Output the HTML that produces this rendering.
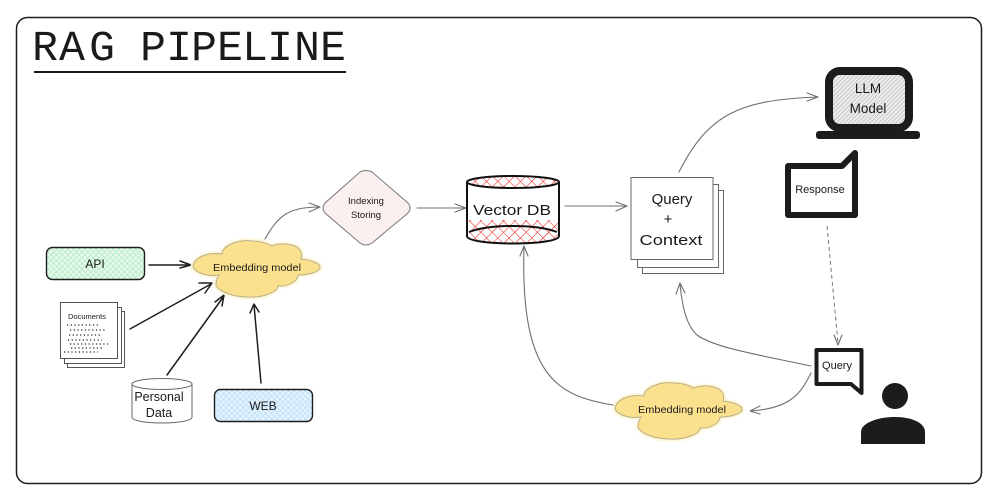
<!DOCTYPE html>
<html><head><meta charset="utf-8"><style>
html,body{margin:0;padding:0;background:#fff;width:1000px;height:500px;overflow:hidden}
svg{display:block}
text{font-family:"Liberation Sans","DejaVu Sans",sans-serif;fill:#1a1a1a;text-anchor:middle}
.g{fill:none;stroke:#6f6f6f;stroke-width:1.1;stroke-linecap:round;stroke-linejoin:round}
.b{fill:none;stroke:#1e1e1e;stroke-width:1.5;stroke-linecap:round;stroke-linejoin:round}
</style></head><body>
<svg width="1000" height="500" viewBox="0 0 1000 500" xmlns="http://www.w3.org/2000/svg">
<defs>
<pattern id="gh" width="4" height="4" patternUnits="userSpaceOnUse" patternTransform="rotate(45)"><rect width="4" height="4" fill="#e6f9ec"/><path d="M0 0H4M0 0V4" stroke="#9be3b4" stroke-width="1"/></pattern>
<pattern id="bh" width="4" height="4" patternUnits="userSpaceOnUse" patternTransform="rotate(45)"><rect width="4" height="4" fill="#e6f3fd"/><path d="M0 0H4M0 0V4" stroke="#a5d5f7" stroke-width="1"/></pattern>
<pattern id="rh" width="8" height="8" patternUnits="userSpaceOnUse" patternTransform="rotate(45)"><rect width="8" height="8" fill="#fff"/><path d="M0 0H8M0 0V8" stroke="#e81f1f" stroke-width="1.1"/></pattern>
<pattern id="ph" width="3" height="3" patternUnits="userSpaceOnUse" patternTransform="rotate(-45)"><rect width="3" height="3" fill="#fcf2f2"/><path d="M0 0H3" stroke="#f6e2e2" stroke-width="1"/></pattern>
<pattern id="sh" width="3" height="3" patternUnits="userSpaceOnUse" patternTransform="rotate(-45)"><rect width="3" height="3" fill="#ececec"/><path d="M0 0H3" stroke="#a8a8a8" stroke-width="1"/></pattern>
<path id="cloud" d="M193 266C195 256 210 252 222 254C222 246 238 239 252 241C262 241 268 244 272 246C282 242 298 244 301 252C302 255 302 257 301 259C310 260 320 263 320 267C320 272 308 275 298 275C298 281 288 287 278 286C278 292 262 298 248 297C232 297 218 291 216 285C216 281 217 278 219 275C206 277 194 272 193 266Z"/>
</defs>

<rect x="16.500" y="17.500" width="965" height="466" rx="11" fill="#fff" stroke="#1c1c1c" stroke-width="1.5"/>

<text x="45 72 102 153 179 204 230 255 280 307 333" y="60" font-size="43" style="font-family:'Liberation Mono',monospace">RAGPIPELINE</text>
<rect x="34" y="71" width="312" height="2" fill="#1a1a1a"/>

<!-- API -->
<rect x="46.500" y="247.500" width="98" height="32" rx="6" fill="url(#gh)" stroke="#1e1e1e" stroke-width="1.4"/>
<text x="95" y="268" font-size="12">API</text>
<path class="b" d="M149 265H190M180 261L191 265L180 268"/>

<!-- Documents -->
<rect x="67.500" y="311.500" width="57" height="56" fill="#fff" stroke="#555"/>
<rect x="64.500" y="307.500" width="57" height="56" fill="#fff" stroke="#555"/>
<rect x="60.500" y="302.500" width="57" height="56" fill="#fff" stroke="#555"/>
<text x="87" y="319" font-size="7.500">Documents</text>
<g fill="none" stroke="#222" stroke-width="1.2" stroke-dasharray="1.2 2.5">
<path d="M67 325H100M70 330H105M69 335H102M68 340H102M70 344H110M71 348H104M64 352H98"/>
</g>
<path class="b" d="M130 329L211 284M199 283L212 283L205 293"/>

<!-- Personal Data -->
<path d="M132 384V417C132 425 192 425 192 417V384" fill="#fff" stroke="#666"/>
<ellipse cx="162" cy="384" rx="30" ry="5.500" fill="#fff" stroke="#666"/>
<text x="159" y="401" font-size="12.500">Personal</text>
<text x="159" y="417" font-size="12.500">Data</text>
<path class="b" d="M167 375L224 296M215 302L224 295L222 306"/>

<!-- WEB -->
<rect x="214.500" y="389.500" width="98" height="32" rx="6" fill="url(#bh)" stroke="#1e1e1e" stroke-width="1.4"/>
<text x="263" y="410" font-size="12">WEB</text>
<path class="b" d="M261 383L254 305M250 313L254 304L259 312"/>

<!-- Cloud 1 -->
<use href="#cloud" fill="#fdf6d8" stroke="#fdf6d8" stroke-width="5"/>
<use href="#cloud" fill="#fbe08d" stroke="#b9b08a" stroke-width="1"/>
<text x="257" y="271" font-size="10.500" textLength="88" lengthAdjust="spacingAndGlyphs">Embedding model</text>
<path class="g" d="M265 239C278 216 288 207 319 207M309 203L320 207L309 212"/>

<!-- Diamond -->
<path d="M360 172Q366 169 372 172L408 203Q412 208 408 213L372 243Q366 247 360 243L325 213Q321 208 325 203Z" fill="url(#ph)" stroke="#777" stroke-width="1"/>
<text x="366" y="204" font-size="9.500">Indexing</text>
<text x="366" y="218" font-size="9.500">Storing</text>
<path class="g" d="M417 208H465M455 204L466 208L455 212"/>

<!-- Vector DB -->
<path d="M468 182V237C468 246 559 246 559 237V182" fill="#fff" stroke="none"/>
<path d="M469 220H558V237C558 245 469 245 469 237Z" fill="url(#rh)"/>
<ellipse cx="513" cy="182" rx="46" ry="6" fill="url(#rh)" stroke="#111" stroke-width="2"/>
<path d="M467 182V236C467 246 559 246 559 236V182" fill="none" stroke="#111" stroke-width="2"/>
<path d="M469 232C490 224 536 224 557 232" fill="none" stroke="#111" stroke-width="2"/>
<text x="512" y="215" font-size="15" textLength="78" lengthAdjust="spacingAndGlyphs">Vector DB</text>
<path class="g" d="M565 206H626M616 202L627 206L616 211"/>

<!-- Query + Context -->
<rect x="642.500" y="190.500" width="81" height="83" fill="#fff" stroke="#666"/>
<rect x="637.500" y="184.500" width="81" height="83" fill="#fff" stroke="#666"/>
<rect x="631" y="177.500" width="82" height="82" fill="#fff" stroke="#666"/>
<text x="672" y="204" font-size="15">Query</text>
<text x="668" y="224" font-size="15">+</text>
<text x="671" y="245" font-size="15" textLength="63" lengthAdjust="spacingAndGlyphs">Context</text>
<path class="g" d="M679 172C708 115 738 100 817 97M807 93L818 97L807 101"/>

<!-- LLM -->
<rect x="829" y="71" width="80" height="57" rx="11" fill="url(#sh)" stroke="#1c1c1c" stroke-width="8"/>
<rect x="816" y="131" width="104" height="8" rx="3" fill="#1c1c1c"/>
<text x="868" y="93" font-size="13.500">LLM</text>
<text x="868" y="113" font-size="13.500">Model</text>

<!-- Response -->
<path d="M788 166H842L855 153V215H788Z" fill="#fff" stroke="#1c1c1c" stroke-width="6" stroke-linejoin="round"/>
<text x="820" y="193" font-size="11">Response</text>
<path d="M827 226L838 343" fill="none" stroke="#777" stroke-width="1" stroke-dasharray="4 3"/>
<path class="g" d="M834 335L838 345L842 335"/>

<!-- Query bubble -->
<path d="M816.500 350H861.500V393L851 384H816.500Z" fill="#fff" stroke="#1c1c1c" stroke-width="4" stroke-linejoin="round"/>
<text x="837" y="369" font-size="11">Query</text>

<!-- Person -->
<circle cx="895" cy="396" r="13" fill="#1c1c1c"/>
<path d="M861 444V432C861 423 878 417 895 417C912 417 925 423 925 432V444Z" fill="#1c1c1c"/>

<!-- Arrows lower -->
<path class="g" d="M811 366C760 355 715 348 697 335C686 325 682 305 680 284M676 294L680 283L685 293"/>
<path class="g" d="M811 373C800 395 790 408 751 411M760 406L750 411L760 414"/>
<use href="#cloud" transform="translate(422 142)" fill="#fdf6d8" stroke="#fdf6d8" stroke-width="5"/>
<use href="#cloud" transform="translate(422 142)" fill="#fbe08d" stroke="#b9b08a" stroke-width="1"/>
<text x="682" y="413" font-size="10.500" textLength="88" lengthAdjust="spacingAndGlyphs">Embedding model</text>
<path class="g" d="M613 405C560 396 520 380 524 247M520 256L524 246L528 256"/>
</svg>
</body></html>
